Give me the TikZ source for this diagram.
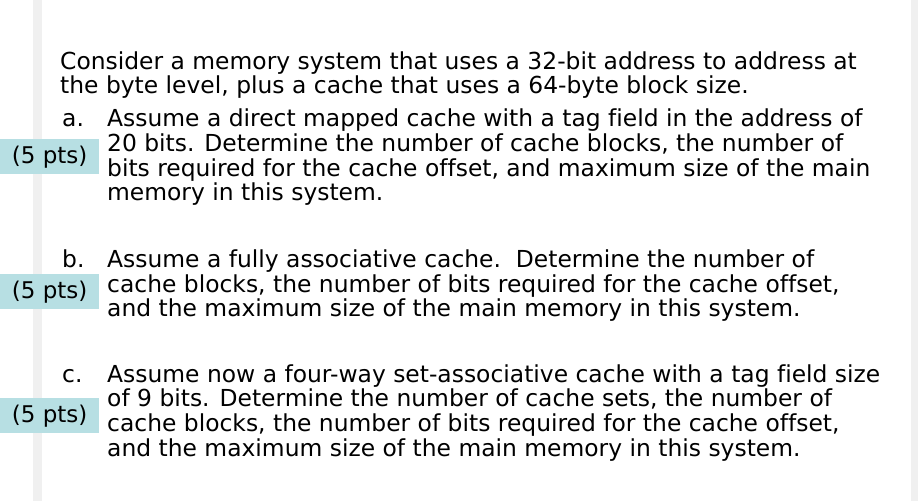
\documentclass[tikz,border=0pt]{standalone}
\usepackage{fontspec}
\setmainfont[Ligatures={NoCommon}]{DejaVu Sans}
\definecolor{lab}{HTML}{B7DFE3}
\definecolor{band}{HTML}{F0F0F0}
\begin{document}
\begin{tikzpicture}[x=1pt,y=1pt,
 txt/.style={anchor=base west,inner sep=0pt,font=\fontsize{23.4}{24}\selectfont},
 lbl/.style={fill=lab,minimum width=99pt,minimum height=35pt,inner sep=0pt,anchor=north west,font=\fontsize{23}{24}\selectfont}]
\useasboundingbox (0,0) rectangle (918,501);
\fill[band] (33,0) rectangle (42,501);
\fill[band] (911,0) rectangle (918,501);
\node[txt] (l1) at (60,501-70) {Consider a memory system that uses a 32-bit address to address at};
\node[txt] (l2) at (60,501-94) {the byte level, plus a cache that uses a 64-byte block size.};
\node[lbl] (pa) at (0,501-139) {(5 pts)};
\node[lbl] (pb) at (0,501-274) {(5 pts)};
\node[lbl] (pc) at (0,501-398) {(5 pts)};
\node[txt] (a0) at (62,501-127) {a.};
\node[txt] (a1) at (107,501-127) {Assume a direct mapped cache with a tag field in the address of};
\node[txt] (a2) at (107,501-152) {20 bits. Determine the number of cache blocks, the number of};
\node[txt] (a3) at (107,501-177) {bits required for the cache offset, and maximum size of the main};
\node[txt] (a4) at (107,501-201) {memory in this system.};
\node[txt] (b0) at (62,501-268) {b.};
\node[txt] (b1) at (107,501-268) {Assume a fully associative cache.\ \ Determine the number of};
\node[txt] (b2) at (107,501-293) {cache blocks, the number of bits required for the cache offset,};
\node[txt] (b3) at (107,501-317) {and the maximum size of the main memory in this system.};
\node[txt] (c0) at (62,501-382) {c.};
\node[txt] (c1) at (107,501-382) {Assume now a four-way set-associative cache with a tag field size};
\node[txt] (c2) at (107,501-406) {of 9 bits. Determine the number of cache sets, the number of};
\node[txt] (c3) at (107,501-431) {cache blocks, the number of bits required for the cache offset,};
\node[txt] (c4) at (107,501-456) {and the maximum size of the main memory in this system.};
\end{tikzpicture}
\end{document}
